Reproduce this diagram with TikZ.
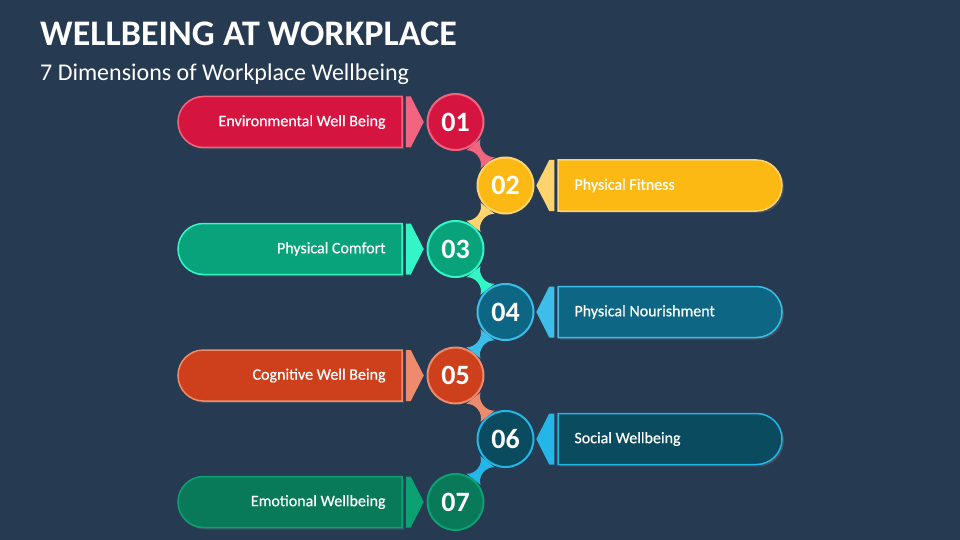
\documentclass[tikz,border=0pt]{standalone}
\usepackage{fontspec}
\setmainfont{Carlito}
\newfontfamily\lblfont[FakeBold=0.6]{Carlito}
\usetikzlibrary{calc,positioning,shapes.misc,shadows}

\definecolor{bgnavy}{HTML}{263A52}
\definecolor{envfill}{HTML}{D61440}
\definecolor{envline}{HTML}{F2657F}
\definecolor{fitfill}{HTML}{FDB913}
\definecolor{fitline}{HTML}{FFD46F}
\definecolor{comfill}{HTML}{08A37A}
\definecolor{comline}{HTML}{33F5C6}
\definecolor{nurfill}{HTML}{0D6683}
\definecolor{nurline}{HTML}{3DBEE9}
\definecolor{cogfill}{HTML}{CD401B}
\definecolor{cogline}{HTML}{EE8B6E}
\definecolor{socfill}{HTML}{0A4B5F}
\definecolor{socline}{HTML}{25B6E8}
\definecolor{emofill}{HTML}{087A5A}
\definecolor{emoline}{HTML}{0BA173}

\pgfdeclarelayer{bg}
\pgfdeclarelayer{links}
\pgfsetlayers{bg,links,main}

\tikzset{
  leftpill/.style 2 args={rounded rectangle,rounded rectangle right arc=none,
    minimum width=224pt,minimum height=51pt,inner sep=0pt,fill=#1,draw=#2,line width=1.5pt,
    drop shadow={opacity=0.3,shadow xshift=2pt,shadow yshift=-2pt}},
  rightpill/.style 2 args={rounded rectangle,rounded rectangle left arc=none,
    minimum width=224pt,minimum height=51pt,inner sep=0pt,fill=#1,draw=#2,line width=1.5pt,
    drop shadow={opacity=0.3,shadow xshift=2pt,shadow yshift=-2pt}},
  numdisc/.style 2 args={circle,minimum size=56pt,inner sep=0pt,fill=#1,draw=#2,line width=2pt,
    text=white,font=\bfseries\fontsize{28}{28}\selectfont},
  lbl/.style={text=white,inner sep=0pt,font=\lblfont\fontsize{16}{19}\selectfont}
}

% pinched link between two discs
\newcommand{\neck}[3]{%
\fill[#1] ($(#2.center)!29pt!(#3.center)!9pt!90:(#3.center)$)
 .. controls ($(#2.center)!0.42!(#3.center)!1.5pt!90:(#3.center)$) and ($(#2.center)!0.58!(#3.center)!1.5pt!90:(#3.center)$)
 .. ($(#3.center)!29pt!(#2.center)!9pt!-90:(#2.center)$)
 -- ($(#3.center)!29pt!(#2.center)!9pt!90:(#2.center)$)
 .. controls ($(#2.center)!0.58!(#3.center)!1.5pt!-90:(#3.center)$) and ($(#2.center)!0.42!(#3.center)!1.5pt!-90:(#3.center)$)
 .. ($(#2.center)!29pt!(#3.center)!9pt!-90:(#3.center)$) -- cycle;}

\begin{document}
\begin{tikzpicture}[x=1pt,y=-1pt]

\useasboundingbox (0,0) rectangle (960,540);
\begin{pgfonlayer}{bg}
\fill[bgnavy] (0,0) rectangle (960,540);
\end{pgfonlayer}

\node[anchor=base west,inner sep=0pt,text=white,font=\bfseries\fontsize{36}{36}\selectfont] (title) at (40,46) {WELLBEING AT WORKPLACE};
\node[anchor=base west,inner sep=0pt,text=white,font=\fontsize{24}{24}\selectfont] (subtitle) at (40,80.5) {7 Dimensions of Workplace Wellbeing};

% left rows
\node[leftpill={envfill}{envline}] (p1) at (290,122) {};
\fill[envline] ($(p1.east)+(3,-25.5)$) -- ++(5,0) -- ++(13,25.5) -- ++(-13,25.5) -- ++(-5,0) -- cycle;
\node[numdisc={envfill}{envline}] (c1) at (455.5,122) {01};
\node[lbl,left=17pt of p1.east] (l1) {Environmental Well Being};

\node[leftpill={comfill}{comline}] (p3) at (290,249) {};
\fill[comline] ($(p3.east)+(3,-25.5)$) -- ++(5,0) -- ++(13,25.5) -- ++(-13,25.5) -- ++(-5,0) -- cycle;
\node[numdisc={comfill}{comline}] (c3) at (455.5,249) {03};
\node[lbl,left=17pt of p3.east] (l3) {Physical Comfort};

\node[leftpill={cogfill}{cogline}] (p5) at (290,375.5) {};
\fill[cogline] ($(p5.east)+(3,-25.5)$) -- ++(5,0) -- ++(13,25.5) -- ++(-13,25.5) -- ++(-5,0) -- cycle;
\node[numdisc={cogfill}{cogline}] (c5) at (455.5,375.5) {05};
\node[lbl,left=17pt of p5.east] (l5) {Cognitive Well Being};

\node[leftpill={emofill}{emoline}] (p7) at (290,502) {};
\fill[emoline] ($(p7.east)+(3,-25.5)$) -- ++(5,0) -- ++(13,25.5) -- ++(-13,25.5) -- ++(-5,0) -- cycle;
\node[numdisc={emofill}{emoline}] (c7) at (455.5,502) {07};
\node[lbl,left=17pt of p7.east] (l7) {Emotional Wellbeing};

% right rows
\node[rightpill={fitfill}{fitline}] (p2) at (670,185.5) {};
\fill[fitline] ($(p2.west)+(-3,-25.5)$) -- ++(-5,0) -- ++(-13,25.5) -- ++(13,25.5) -- ++(5,0) -- cycle;
\node[numdisc={fitfill}{fitline}] (c2) at (505.5,185.5) {02};
\node[lbl,right=17pt of p2.west] (l2) {Physical Fitness};

\node[rightpill={nurfill}{nurline}] (p4) at (670,312) {};
\fill[nurline] ($(p4.west)+(-3,-25.5)$) -- ++(-5,0) -- ++(-13,25.5) -- ++(13,25.5) -- ++(5,0) -- cycle;
\node[numdisc={nurfill}{nurline}] (c4) at (505.5,312) {04};
\node[lbl,right=17pt of p4.west] (l4) {Physical Nourishment};

\node[rightpill={socfill}{socline}] (p6) at (670,439) {};
\fill[socline] ($(p6.west)+(-3,-25.5)$) -- ++(-5,0) -- ++(-13,25.5) -- ++(13,25.5) -- ++(5,0) -- cycle;
\node[numdisc={socfill}{socline}] (c6) at (505.5,439) {06};
\node[lbl,right=17pt of p6.west] (l6) {Social Wellbeing};

\begin{pgfonlayer}{links}
\neck{envline}{c1}{c2}
\neck{fitline}{c2}{c3}
\neck{comline}{c3}{c4}
\neck{nurline}{c4}{c5}
\neck{cogline}{c5}{c6}
\neck{socline}{c6}{c7}
\end{pgfonlayer}

\end{tikzpicture}
\end{document}
